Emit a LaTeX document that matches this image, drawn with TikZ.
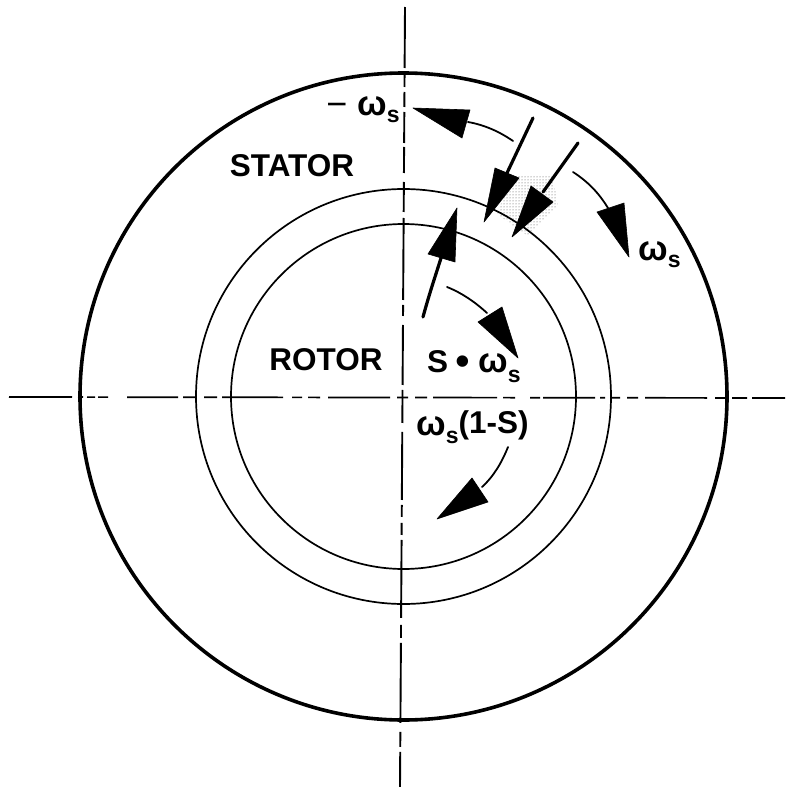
\documentclass[tikz,border=0pt]{standalone}
\usepackage{fontspec}
\setmainfont{Liberation Sans}
\usetikzlibrary{patterns}
\newcommand{\wsub}[1]{{\fontsize{35}{38}\selectfont ω}\raisebox{-#1pt}{\fontsize{23}{25}\selectfont s}}
\tikzset{
  ring/.style={draw=black,line width=1.7pt},
  outerring/.style={draw=black,line width=3.6pt},
  vaxis/.style={draw=black,line width=1.9pt,dash pattern=on 61pt off 7pt on 12pt off 5pt on 15pt off 5pt on 31pt off 4pt on 26pt off 9pt on 30pt off 6pt on 82pt off 5pt on 11pt off 9pt on 60pt off 5pt on 33pt off 9pt on 68pt off 5pt on 12pt off 6pt on 12pt off 5pt on 78pt off 7pt on 13pt off 5pt on 80pt off 9pt on 15pt off 5pt on 35pt off 50pt},
  haxis/.style={draw=black,line width=1.7pt,dash pattern=on 63pt off 6pt on 5pt off 4pt on 8pt off 3pt on 10pt off 19pt on 51pt off 5pt on 12pt off 9pt on 13pt off 5pt on 61pt off 9pt on 10pt off 6pt on 12pt off 8pt on 62pt off 7pt on 11pt off 7pt on 12pt off 6pt on 64pt off 6pt on 12pt off 15pt on 10pt off 3pt on 52pt off 5pt on 5pt off 5pt on 10pt off 7pt on 11pt off 7pt on 62pt off 8pt on 10pt off 7pt on 15pt off 5pt on 33pt off 50pt},
  shaft/.style={draw=black,line width=3.2pt,line cap=round},
  curveline/.style={draw=black,line width=1.8pt,line cap=round},
  tiphead/.style={fill=black,draw=black,line width=.6pt,line join=round},
  lbl/.style={font=\bfseries\fontsize{31.5}{33}\selectfont,inner sep=0pt,text=black},
  thinsign/.style={font=\fontsize{36}{38}\selectfont,inner sep=0pt,text=black},
  dotsign/.style={font=\fontsize{42}{44}\selectfont,inner sep=0pt,text=black}
}
\begin{document}
\begin{tikzpicture}[x=1pt,y=-1pt]
\useasboundingbox[fill=white] (0,0) rectangle (809,795);
% stippled shade
\fill[pattern=dots,pattern color=black!70] (497,214) -- (512,176) -- (552,175) -- (558,205) -- (528,236) -- cycle;
% rings
\coordinate (c) at (403.5,396.5);
\draw[outerring] (c) circle[radius=323.5];
\draw[ring] (c) circle[radius=207.5];
\draw[ring] (c) circle[radius=172.5];
% axes
\draw[vaxis] (405,7) -- (400,787);
\draw[haxis] (9,397) -- (785,398);
% curved arrows
\draw[curveline] (513,141) .. controls (500,132) and (485,125) .. (468,122);
\fill[tiphead] (413,108) -- (470,110) -- (462,138) -- cycle;
\draw[curveline] (573,172) .. controls (590,183) and (600,195) .. (608,208);
\fill[tiphead] (629,257) -- (597,212) -- (624,203) -- cycle;
\draw[curveline] (447,287) .. controls (462,293) and (475,302) .. (487,313);
\fill[tiphead] (518,358) -- (478,322) -- (502,307) -- cycle;
\draw[curveline] (508,447) .. controls (502,462) and (494,476) .. (482,487);
\fill[tiphead] (437,519) -- (472,478) -- (488,502) -- cycle;
% straight arrows
\draw[shaft] (533,118) -- (507,173);
\fill[tiphead] (484,222) -- (495,168) -- (519,178) -- cycle;
\draw[shaft] (578,143) -- (543,192);
\fill[tiphead] (512,237) -- (531,186) -- (553,202) -- cycle;
\draw[shaft] (423,317) .. controls (429,295) and (434,280) .. (442,255);
\fill[tiphead] (457,208) -- (428,254) -- (455,262) -- cycle;
% labels
\node[lbl,anchor=center] (stator) at (292,166) {STATOR};
\node[lbl,anchor=center] (rotor) at (326,360) {ROTOR};
\node[thinsign,anchor=center] (minus) at (337,110) {−};
\node[lbl,anchor=base west] (minusw) at (357,115) {\wsub{7}};
\node[lbl,anchor=base west] (wright) at (638,260) {\wsub{7}};
\node[lbl,anchor=base west] (slip) at (427,372) {S};
\node[dotsign,anchor=center] (slipdot) at (463,366) {•};
\node[lbl,anchor=base west] (slipw) at (478,372) {\wsub{10}};
\node[lbl,anchor=base west] (wrot) at (416,435) {\wsub{8}\raisebox{2pt}{(1-S)}};
\end{tikzpicture}
\end{document}
